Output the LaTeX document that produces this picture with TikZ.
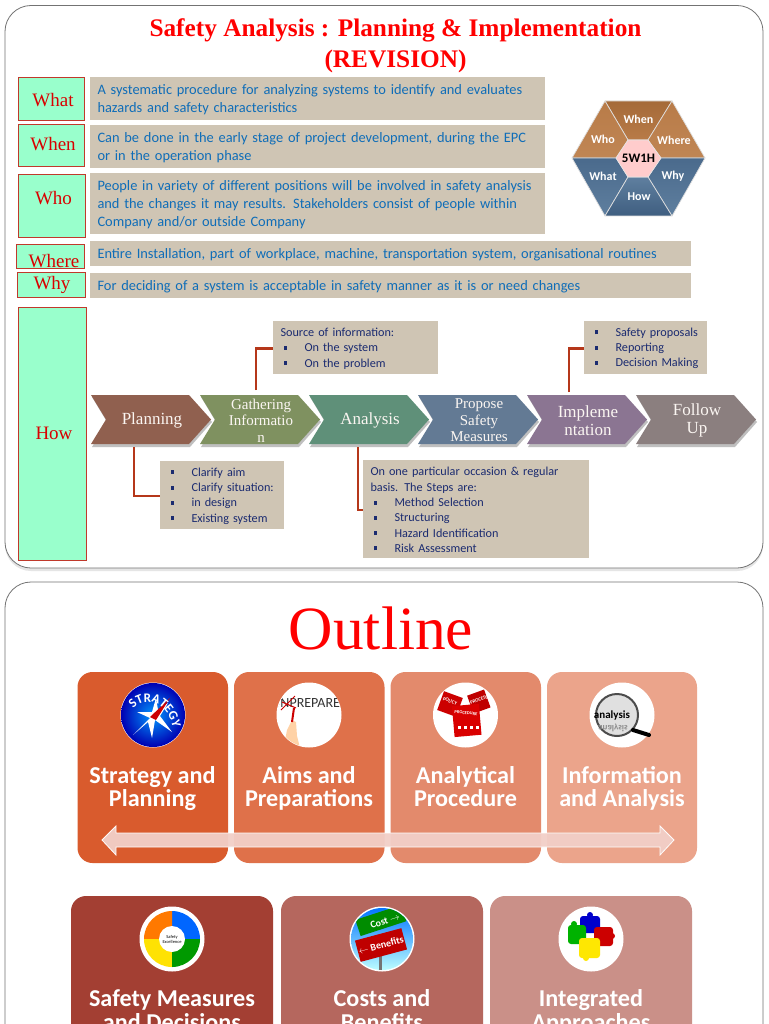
\documentclass[tikz,border=0pt]{standalone}
\usepackage{fontspec}
\usetikzlibrary{calc,decorations.text}
\newfontfamily\fcal{Carlito}
\newfontfamily\fser{Liberation Serif}
\newcommand\fz[2]{\fontsize{#1}{#2}\selectfont}
\definecolor{tan1}{HTML}{CFC5B4}
\definecolor{mint}{HTML}{99FFCC}
\definecolor{lblred}{HTML}{C0392B}
\definecolor{blu}{HTML}{0F6DB8}
\definecolor{navy}{HTML}{1B2B70}
\definecolor{connc}{HTML}{B5371A}
\definecolor{ora}{HTML}{B87B48}
\definecolor{orb}{HTML}{A56A38}
\definecolor{orc}{HTML}{C08654}
\definecolor{bla}{HTML}{4A6A8C}
\definecolor{blb}{HTML}{5F7F9F}
\definecolor{blc}{HTML}{3F5E80}
\definecolor{cha}{HTML}{90604F}
\definecolor{chb}{HTML}{7F9160}
\definecolor{chc}{HTML}{5F9079}
\definecolor{chd}{HTML}{637A94}
\definecolor{che}{HTML}{8B7592}
\definecolor{chf}{HTML}{8B7F7F}
\definecolor{ra}{HTML}{D95B2D}
\definecolor{rb}{HTML}{DF714A}
\definecolor{rc}{HTML}{E38A6C}
\definecolor{rd}{HTML}{EBA48B}
\definecolor{arw}{HTML}{F2CFC8}
\definecolor{sa}{HTML}{A33F33}
\definecolor{sb}{HTML}{B5675E}
\definecolor{sc}{HTML}{CA9088}
\tikzset{
 panel/.style={draw=black!55,line width=.8pt,fill=white,rounded corners=26pt},
 pshadow/.style={fill=black!10,rounded corners=26pt},
 tanbox/.style={inner xsep=7.5pt,inner ysep=0pt,align=left,anchor=center},
 body/.style={tanbox,yshift=-1.5pt,text=blu,font=\fcal\fz{14.4}{18}},
 info/.style={tanbox,yshift=-1pt,text=navy,font=\fcal\fz{12.2}{15.3}},
 lab/.style={fill=mint,draw=lblred,line width=.9pt,inner sep=0pt,text=red!85!black,font=\fser\fz{19}{19},anchor=center},
 conn/.style={draw=connc,line width=2.6pt},
 chevt/.style={text=white!93!brown,align=center,inner sep=0pt},
 tile/.style={rounded corners=15pt,inner sep=0pt,anchor=center},
 tilet/.style={text=white,font=\fcal\bfseries\fz{24.2}{23.5},align=center,inner sep=0pt},
 ico/.style={circle,fill=white,minimum size=65pt,inner sep=0pt},
 hext/.style={text=white,font=\fcal\bfseries\fz{12}{12},inner sep=0pt},
 hexp/.style={draw=white!75!gray,line width=.7pt,line join=round},
}
\newcommand\tb[7][body]{% style name x1 y1 x2 y2 text
 \pgfmathsetmacro\cx{(#3+#5)/2}\pgfmathsetmacro\cy{(#4+#6)/2}
 \pgfmathsetmacro\bw{#5-#3}\pgfmathsetmacro\bh{#6-#4}\pgfmathsetmacro\tw{#5-#3-15}
 \fill[tan1] (#3,#4) rectangle (#5,#6);
 \node[#1,minimum width=\bw pt,minimum height=\bh pt,text width=\tw pt] (#2) at (\cx,\cy) {#7};}
\newcommand\lb[8]{% name x1 y1 x2 y2 dx baseline text
 \pgfmathsetmacro\cx{(#2+#4)/2}\pgfmathsetmacro\cy{(#3+#5)/2}
 \pgfmathsetmacro\bw{#4-#2}\pgfmathsetmacro\bh{#5-#3}\pgfmathsetmacro\rs{\cy-#7}\pgfmathsetmacro\dxx{2*#6}
 \node[lab,minimum width=\bw pt,minimum height=\bh pt] (#1) at (\cx,\cy) {\smash{\raisebox{\rs pt}{\hspace{\dxx pt}#8}}};}
\newcommand\chv[5]{% name x color size text
 \fill[black!45,opacity=.55] (#2+1,397) -- (#2+99,397) -- (#2+121,422) -- (#2+99,447) -- (#2+1,447) -- (#2+16,422) -- cycle;
 \fill[#3] (#2,395) -- (#2+98,395) -- (#2+120,419.5) -- (#2+98,444) -- (#2,444) -- (#2+15,419.5) -- cycle;
 \node[chevt,font=\fser\fz{#4}{#4}] (#1) at (#2+61,420.5) {#5};}
\newcommand\tl[6]{% name x1 y1 x2 y2 colour
 \pgfmathsetmacro\cx{(#2+#4)/2}\pgfmathsetmacro\cy{(#3+#5)/2}
 \pgfmathsetmacro\bw{#4-#2}\pgfmathsetmacro\bh{#5-#3}
 \node[tile,fill=#6,minimum width=\bw pt,minimum height=\bh pt] (#1) at (\cx,\cy) {};}
\newcommand\blt[1]{\leavevmode\hbox to 24pt{\hskip3pt\rule[2pt]{3pt}{4pt}\hfil}#1}
\begin{document}
\begin{tikzpicture}[x=1pt,y=-1pt]
\useasboundingbox (0,0) rectangle (768,1024);
\clip (0,0) rectangle (768,1024);
\fill[white] (0,0) rectangle (768,1024);
% panels
\fill[pshadow] (5,8) rectangle (763,571);
\fill[pshadow] (5,585) rectangle (763,1060);
\draw[panel] (5,5.5) rectangle (763,568);
\draw[panel] (5,582) rectangle (763,1060);
% title
\node[text=red,font=\fser\bfseries\fz{25.3}{31},align=center,inner sep=0pt] (title) at (395.5,45.5) {Safety Analysis : Planning \& Implementation\\(REVISION)};
% left labels
\lb{what}{18}{77}{84}{120}{2}{107}{What}
\lb{when}{18}{124}{84}{166}{2}{151}{When}
\lb{who}{18}{174}{85}{237}{2}{204}{Who}
\lb{where}{16}{244}{84}{268}{4}{267}{Where}
\lb{why}{17}{272}{85}{297}{1}{289}{Why}
\lb{how}{18}{307}{86}{560}{2}{439}{How}
% body boxes
\tb{t1}{90}{77}{545}{120}{A systematic procedure for analyzing systems to identify and evaluates\\hazards and safety characteristics}
\tb{t2}{90}{125}{545}{168}{Can be done in the early stage of project development, during the EPC\\or in the operation phase}
\tb{t3}{90}{173}{545}{234}{People in variety of different positions will be involved in safety analysis\\and the changes it may results. Stakeholders consist of people within\\Company and/or outside Company}
\tb{t4}{90}{241}{691}{266}{Entire Installation, part of workplace, machine, transportation system, organisational routines}
\tb{t5}{90}{273}{691}{298}{For deciding of a system is acceptable in safety manner as it is or need changes}
% hexagon
\shade[hexp,top color=orb,bottom color=ora] (605,101) -- (672,101) -- (648,140) -- (628,140) -- cycle;
\shade[hexp,top color=ora,bottom color=orc] (605,101) -- (572,158) -- (616,158) -- (628,140) -- cycle;
\shade[hexp,top color=ora,bottom color=orc] (672,101) -- (705,158) -- (661,158) -- (648,140) -- cycle;
\shade[hexp,top color=bla,bottom color=blb] (572,158) -- (605,216) -- (628,177) -- (616,158) -- cycle;
\shade[hexp,top color=bla,bottom color=blb] (705,158) -- (672,216) -- (648,177) -- (661,158) -- cycle;
\shade[hexp,top color=blb,bottom color=blc] (605,216) -- (672,216) -- (648,177) -- (628,177) -- cycle;
\fill[pink!80!white,draw=white!80!gray,line width=.6pt] (616,158) -- (628,140) -- (648,140) -- (661,158) -- (648,177) -- (628,177) -- cycle;
\node[text=black,font=\fcal\bfseries\fz{13}{13},inner sep=0pt] (h0) at (638.5,158.5) {5W1H};
\node[hext] (h1) at (638.5,119) {When};
\node[hext] (h2) at (603,139.5) {Who};
\node[hext] (h3) at (674,140) {Where};
\node[hext] (h4) at (603,176.5) {What};
\node[hext] (h5) at (673,176.5) {Why};
\node[hext] (h6) at (639,197) {How};
% info boxes
\tb[info]{b2}{273}{321}{438}{374}{Source of information:\\\blt{On the system}\\\blt{On the problem}}
\tb[info]{b5}{584}{321}{707}{374}{\blt{Safety proposals}\\\blt{Reporting}\\\blt{Decision Making}}
\tb[info]{b1}{160}{461}{284}{529}{\blt{Clarify aim}\\\blt{Clarify situation:}\\\blt{in design}\\\blt{Existing system}}
\tb[info]{b3}{363}{460}{589}{558}{On one particular occasion \& regular\\basis. The Steps are:\\\blt{Method Selection}\\\blt{Structuring}\\\blt{Hazard Identification}\\\blt{Risk Assessment}}
% chevrons
\coordinate (p1) at (134,447);
\coordinate (p2) at (256,390);
\coordinate (p3) at (358,447);
\coordinate (p5) at (569,392);
\chv{c1}{91}{cha}{17}{Planning}
\chv{c2}{200}{chb}{15}{Gathering\\[1.5pt]Informatio\\[1.5pt]n}
\chv{c3}{309}{chc}{17}{Analysis}
\chv{c4}{418}{chd}{15}{Propose\\[1.5pt]Safety\\[1.5pt]Measures}
\chv{c5}{527}{che}{17}{Impleme\\[1pt]ntation}
\chv{c6}{636}{chf}{17}{Follow\\[1pt]Up}
\draw[conn] (p1) |- (b1.west);
\draw[conn] (p2) |- (b2.west);
\draw[conn,line width=2pt] (p3) |- (b3.west);
\draw[conn] (p5) |- (b5.west);
% Outline
\node[text=red,font=\fser\fz{61.5}{61.5},inner sep=0pt] (outl) at (381,628) {Outline};
\tl{r1}{77.5}{672}{228}{863}{ra}
\tl{r2}{234}{672}{384.5}{863}{rb}
\tl{r3}{390.5}{672}{541}{863}{rc}
\tl{r4}{547}{672}{697}{863}{rd}
\node[tilet] (rt1) at (152.5,788.5) {Strategy and\\Planning};
\node[tilet] (rt2) at (309,788.5) {Aims and\\Preparations};
\node[tilet] (rt3) at (465.5,786.5) {Analytical\\Procedure};
\node[tilet] (rt4) at (622,788.5) {Information\\and Analysis};
% double arrow
\fill[arw,draw=white,line width=.8pt,opacity=.95] (102,840) -- (116,826) -- (116,833) -- (660,833) -- (660,826) -- (674,840) -- (660,855) -- (660,847) -- (116,847) -- (116,855) -- cycle;
% row 1 icons
\node[ico] (i1) at (153,715) {};
\node[ico] (i2) at (309,715) {};
\node[ico] (i3) at (465.5,715) {};
\node[ico] (i4) at (622,715) {};
% strategy
\begin{scope}
\clip (153,715) circle (32pt);
\shade[inner color=cyan!60!blue,outer color=blue!70!black] (121,683) rectangle (185,747);
\fill[white] (133,735) -- (150,718) -- (137,712) -- (152,712) -- (156,698) -- (158,710) -- (168,703) -- (160,716) -- (172,732) -- (155,720) -- (152,738) -- (148,722) -- cycle;
\fill[red!80!black] (150,717) -- (170,698) -- (156,720) -- cycle;
\path[decorate,decoration={text along path,text align=center,text={|\color{white}\fcal\bfseries\fz{13}{13}|STRATEGY}}] (129,718) .. controls (134,694) and (172,694) .. (174,738);
\end{scope}
% unprepared
\begin{scope}
\clip (309,715) circle (32pt);
\node[text=black!80,font=\fcal\fz{14}{14},inner sep=0pt] (n2) at (310,703) {UNPREPARED};
\draw[red!80!black,line width=1pt] (281,710) -- (295,696) (282,702) -- (296,708);
\fill[orange!35!white] (284,746) -- (287,730) -- (292,720) -- (296,722) -- (297,736) -- (300,748) -- cycle;
\draw[red!80!black,line width=2pt] (292,722) -- (294,708);
\end{scope}
% dice
\fill[red!80!black,rotate around={-20:(450,704)}] (440,694) rectangle (460,714);
\fill[red!75!black,rotate around={20:(479,702)}] (470,692) rectangle (488,711);
\fill[red!85!black,rotate around={5:(466,718)}] (453,705) rectangle (480,736);
\node[text=white,font=\fcal\bfseries\fz{5}{5},rotate=-20,inner sep=0pt] (n3a) at (450,701) {POLICY};
\node[text=white,font=\fcal\bfseries\fz{5}{5},rotate=20,inner sep=0pt] (n3b) at (479,700) {PROCESS};
\node[text=white,font=\fcal\bfseries\fz{4.5}{5},rotate=-5,inner sep=0pt] (n3c) at (466,713) {PROCEDURE};
\foreach \xx in {458,464,470,476}{\fill[white] (\xx,726) rectangle +(3,3);}
% analysis
\fill[black!12] (617,715) circle (21pt);
\draw[black!70,line width=2pt] (617,715) circle (21pt);
\draw[black,line width=4pt,line cap=round] (633,730) -- (649,735);
\node[text=black,font=\fcal\bfseries\fz{11}{11},inner sep=0pt] (n4) at (612,715) {analysis};
\node[text=black!45,font=\fcal\bfseries\fz{9}{9},yscale=-1,inner sep=0pt] (n4b) at (613,728) {analysis};
% row 2
\tl{s1}{71}{896}{273}{1050}{sa}
\tl{s2}{281}{896}{483}{1050}{sb}
\tl{s3}{490}{896}{692}{1050}{sc}
\node[tilet] (st1) at (172,1010) {Safety Measures\\and Decisions};
\node[tilet] (st2) at (382,1010) {Costs and\\Benefits};
\node[tilet] (st3) at (591,1012) {Integrated\\Approaches};
\node[ico] (j1) at (172,939) {};
\node[ico] (j2) at (382,939) {};
\node[ico] (j3) at (591,939) {};
% wheel
\fill[blue!60!cyan] (172,939) -- ++(0:28pt) arc[start angle=0,end angle=90,radius=28pt] -- cycle;
\fill[orange!95!red] (172,939) -- ++(90:28pt) arc[start angle=90,end angle=180,radius=28pt] -- cycle;
\fill[yellow!85!orange] (172,939) -- ++(180:28pt) arc[start angle=180,end angle=270,radius=28pt] -- cycle;
\fill[green!60!black] (172,939) -- ++(270:28pt) arc[start angle=270,end angle=360,radius=28pt] -- cycle;
\fill[white] (172,939) circle (13pt);
\node[text=black,font=\fcal\fz{4.5}{5},align=center,inner sep=0pt] (n5) at (172,939) {Safety\\Excellence};
% cost & benefits
\begin{scope}
\clip (382,939) circle (31pt);
\shade[top color=blue!55!cyan,bottom color=cyan!25!white] (350,907) rectangle (414,971);
\fill[black!55] (379,950) rectangle (382,971);
\fill[green!55!black,rotate around={18:(381,921)}] (357,912) rectangle (405,929);
\fill[red!75!black,rotate around={15:(381,945)}] (357,934) rectangle (405,956);
\node[text=white,font=\fcal\bfseries\fz{10}{10},rotate=18,inner sep=0pt] (n6a) at (385,921) {Cost $\rightarrow$};
\node[text=white,font=\fcal\bfseries\fz{10}{10},rotate=15,inner sep=0pt] (n6b) at (381,945) {$\leftarrow$ Benefits};
\end{scope}
% puzzle
\fill[blue!80!black,rounded corners=3pt] (580,916) rectangle (600,933);
\fill[green!70!black,rounded corners=3pt] (568,925) rectangle (586,944);
\fill[red!80!black,rounded corners=3pt] (594,927) rectangle (613,946);
\fill[yellow!90!orange,rounded corners=3pt] (579,938) rectangle (600,958);
\fill[yellow!90!orange] (586,958) circle (3pt);
\fill[blue!80!black] (590,915) circle (3pt);
\fill[green!70!black] (574,924) circle (3pt);
\fill[red!80!black] (612,936) circle (3pt);
\end{tikzpicture}
\end{document}
